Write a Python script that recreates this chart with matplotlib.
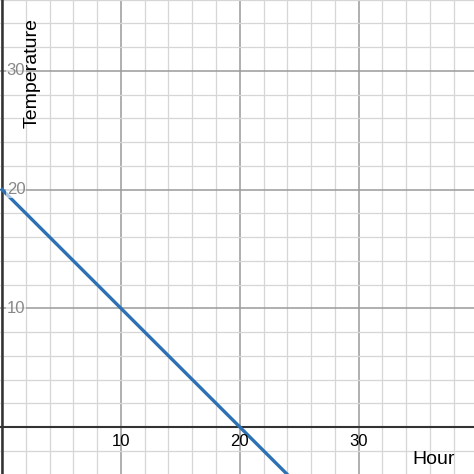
import matplotlib
matplotlib.use('Agg')
import matplotlib.pyplot as plt
import numpy as np

# data: temperature falls 1 degree per hour from 20
hours = [0, 24]
temperature = [20, -4]
x_ticks = [10, 20, 30]
y_ticks = [10, 20, 30]

plt.rcParams['font.family'] = ['Liberation Sans', 'DejaVu Sans']

fig = plt.figure(figsize=(4.74, 4.74), dpi=100)
ax = fig.add_axes([0, 0, 1, 1])
ax.set_xlim(-0.17, 39.7)
ax.set_ylim(-3.96, 35.97)
ax.axis('off')

# grid: minor every 2, major every 10
for v in np.arange(-2, 40, 2):
    major = v % 10 == 0
    ax.axvline(v, color='#9a9a9a' if major else '#d6d6d6',
               lw=1.1 if major else 0.9, zorder=1)
for v in np.arange(-2, 37, 2):
    major = v % 10 == 0
    ax.axhline(v, color='#9a9a9a' if major else '#d6d6d6',
               lw=1.1 if major else 0.9, zorder=1)

# axes lines
ax.axvline(0, color='#333333', lw=1.8, zorder=2)
ax.axhline(0, color='#333333', lw=1.5, zorder=2)

ax.plot(hours, temperature, color='#2d70b3', lw=2.4, zorder=3)

for t in x_ticks:
    ax.annotate(str(t), (t, 0), xytext=(0, -15), textcoords='offset pixels',
                ha='center', va='center', fontsize=12, color='black', zorder=4)
for t in y_ticks:
    ax.annotate(str(t), (0, t), xytext=(14, 0), textcoords='offset pixels',
                ha='center', va='center', fontsize=12, color='#888888', zorder=4,
                bbox=dict(boxstyle='square,pad=0.05', fc='white', ec='none', alpha=0.6))

fig.text(32 / 474, 1 - 73 / 474, 'Temperature', rotation=90, ha='center', va='center',
         fontsize=14, color='black')
fig.text(434 / 474, 1 - 460 / 474, 'Hour', ha='center', va='center',
         fontsize=14, color='black')

fig.savefig('out.png', dpi=100, facecolor='white')
